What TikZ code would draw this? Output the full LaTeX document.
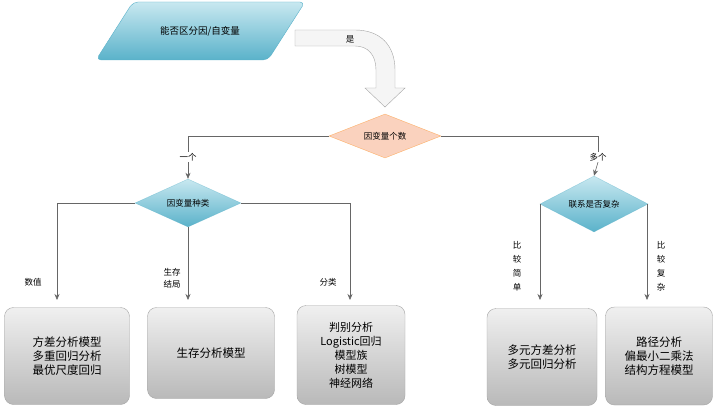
\documentclass[tikz,border=0pt]{standalone}
\usepackage{fontspec}
\setmainfont{Noto Sans CJK SC}
\usetikzlibrary{shapes.geometric,arrows.meta}
\definecolor{bluelt}{RGB}{200,232,240}
\definecolor{bluedk}{RGB}{90,178,202}
\definecolor{peach}{RGB}{250,210,190}
\begin{document}
\begin{tikzpicture}[x=1pt,y=-1pt,
  dia/.style={diamond,aspect=2.3,inner sep=0pt,minimum width=106pt,minimum height=46pt,draw=#1,draw opacity=0.5,font=\fontsize{8.5}{10}\selectfont},
  bdia/.style={dia=bluedk,top color=bluelt,bottom color=bluedk},
  gbox/.style={rounded corners=9pt,draw=gray!70,top color=gray!12,bottom color=gray!55,align=center,font=\fontsize{11.5}{14}\selectfont,inner sep=0pt},
  con/.style={draw=gray!80!black,line width=0.6pt},
  arr/.style={con,-{Stealth[length=6pt,width=5pt]}},
  lab/.style={font=\fontsize{8.5}{10}\selectfont,align=center}]
\useasboundingbox[fill=white] (0,0) rectangle (720,409);
\node (p) at (200,31) {};
\shade[top color=bluelt,bottom color=bluedk,draw=bluedk,rounded corners=5pt]
 (133,2) -- (305,2) -- (268,60) -- (96,60) -- cycle;
\node[font=\fontsize{9.5}{11}\selectfont] at (p) {能否区分因/自变量};
\draw[fill=gray!8,draw=gray!70]
 (295,30) -- (355,30) .. controls (380,30) and (395,45) .. (395,70) -- (395,88) -- (405,88) -- (385,107) -- (365,88) -- (376,88) -- (376,70) .. controls (376,55) and (368,46) .. (355,46) -- (295,46) -- cycle;
\node[lab] (shi) at (350,39) {是};
\node[dia=orange,fill=peach,minimum width=112pt,minimum height=44pt] (d1) at (385,136) {因变量个数};
\node[bdia,minimum height=48pt] (d2) at (188,203) {因变量种类};
\node[bdia,minimum width=108pt,minimum height=56pt] (d3) at (594,204) {联系是否复杂};
\node[gbox,minimum width=125pt,minimum height=97pt] (b1) at (67,356) {方差分析模型\\多重回归分析\\最优尺度回归};
\node[gbox,minimum width=127pt,minimum height=91pt] (b2) at (211,353) {生存分析模型};
\node[gbox,minimum width=108pt,minimum height=99pt,font=\fontsize{11}{14}\selectfont] (b3) at (351,355) {判别分析\\Logistic回归\\模型族\\树模型\\神经网络};
\node[gbox,minimum width=110pt,minimum height=97pt] (b4) at (542,357) {多元方差分析\\多元回归分析};
\node[gbox,minimum width=107pt,minimum height=98pt] (b5) at (659,356) {路径分析\\偏最小二乘法\\结构方程模型};
\node[lab,fill=white,inner sep=1pt] (l1) at (188,157) {一个};
\node[lab,fill=white,inner sep=1pt] (l2) at (598,157) {多个};
\node[lab] (l3) at (33,282) {数值};
\node[lab,font=\fontsize{8.5}{12}\selectfont] (l4) at (172,278) {生存\\结局};
\node[lab,font=\fontsize{8.5}{14}\selectfont] (l6) at (517,266) {比\\较\\简\\单};
\node[lab,font=\fontsize{8.5}{14}\selectfont] (l7) at (661,266) {比\\较\\复\\杂};
\node[lab] (l5) at (328,282) {分类};
\draw[con] (d1.west) -| (l1.north);
\draw[arr] (l1.south) -- (d2.north);
\draw[con] (d1.east) -| (l2.north);
\draw[arr] (l2.south) -- (d3.north);
\draw[arr] (d2.west) -| (57,300);
\draw[arr] (d2.south) -- (188,300);
\draw[arr] (d2.east) -| (350,300);
\draw[arr] (d3.west) -- (540,204) -- (540,300);
\draw[arr] (d3.east) -- (647,204) -- (647,300);
\end{tikzpicture}
\end{document}
